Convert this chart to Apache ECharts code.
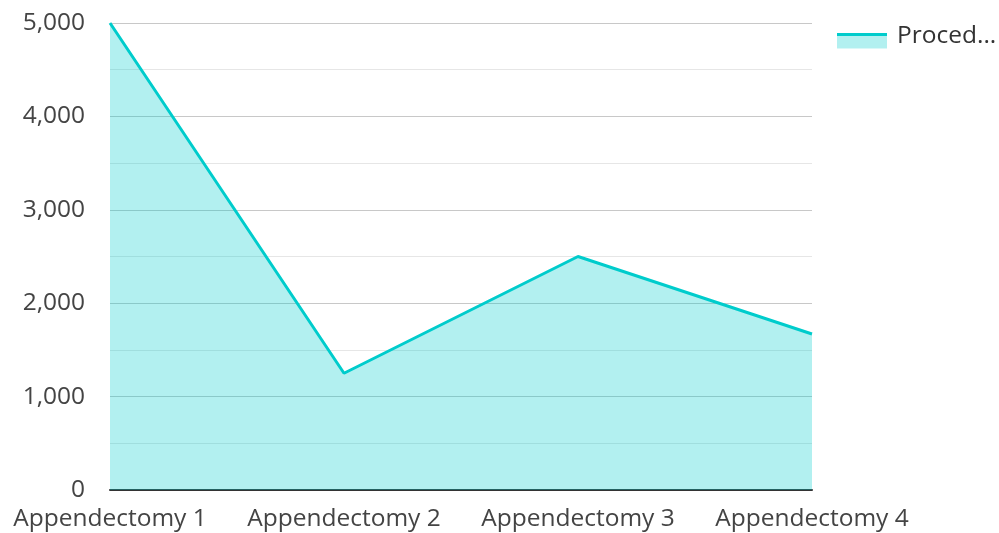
<!DOCTYPE html>
<html>
<head>
<meta charset="utf-8">
<script src="https://cdn.jsdelivr.net/npm/echarts@6/dist/echarts.min.js"></script>
<style>
    html, body { margin: 0; padding: 0; background: #fff; }
    #chart { width: 999px; height: 533px; }
</style>
</head>
<body>
<div id="chart"></div>
<script>
    // data
    let categories = ['Appendectomy 1', 'Appendectomy 2', 'Appendectomy 3', 'Appendectomy 4']
    let values = [5000, 1250, 2500, 1670]
    let seriesName = 'Procedures performed'
    let lineColor = '#00cccc'

    let myChart = echarts.init(document.getElementById('chart'))

    myChart.setOption({
        animation: false,
        textStyle: {fontFamily: 'Open Sans'},
        grid: {
            left: 110,
            right: 187,
            top: 23,
            bottom: 43,
            containLabel: false
        },
        legend: {
            left: 837,
            top: 24,
            padding: 0,
            itemWidth: 50,
            itemHeight: 24,
            // swatch sits in the lower part of the icon box
            icon: 'path://M0 0 L50 0 L50 0 Z M0 9 L50 9 L50 24 L0 24 Z',
            itemStyle: {color: 'rgba(0,204,204,0.3)'},
            textStyle: {
                fontSize: 24.5,
                color: '#333',
                width: 106,
                padding: [0, 0, 0, 5],
                overflow: 'truncate',
                ellipsis: '...'
            },
            data: [seriesName]
        },
        graphic: [
            {
                // line stroke drawn over the legend swatch
                type: 'rect',
                left: 837,
                top: 33,
                shape: {width: 50, height: 3},
                style: {fill: lineColor},
                z: 100
            }
        ],
        xAxis: {
            type: 'category',
            data: categories,
            boundaryGap: false,
            axisLine: {lineStyle: {color: '#333', width: 2}},
            axisTick: {show: false},
            axisLabel: {fontSize: 24.5, color: '#444', margin: 17, interval: 0}
        },
        yAxis: {
            type: 'value',
            min: 0,
            max: 5000,
            interval: 1000,
            axisLine: {show: false},
            axisTick: {show: false},
            axisLabel: {
                fontSize: 24.5,
                color: '#444',
                margin: 25,
                formatter: v => v.toLocaleString('en-US')
            },
            splitLine: {lineStyle: {color: '#c8c8c8', width: 1}},
            minorTick: {show: false, splitNumber: 2},
            minorSplitLine: {show: true, lineStyle: {color: '#e6e6e6', width: 1}}
        },
        series: [
            {
                name: seriesName,
                type: 'line',
                data: values,
                symbol: 'none',
                lineStyle: {color: lineColor, width: 3},
                itemStyle: {color: lineColor},
                areaStyle: {color: lineColor, opacity: 0.3}
            }
        ]
    })
</script>
</body>
</html>
